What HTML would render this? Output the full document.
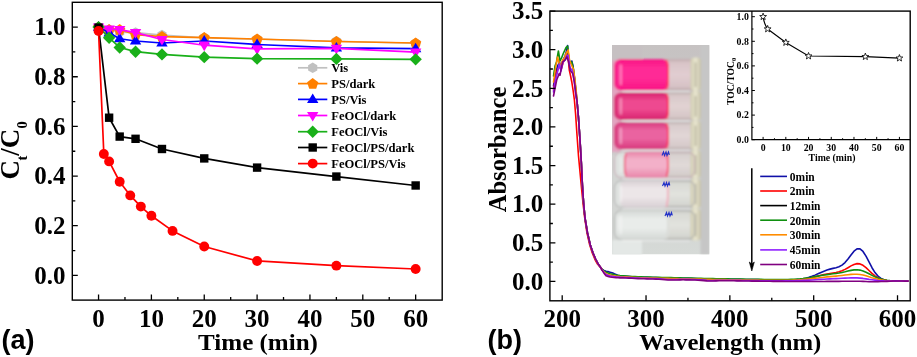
<!DOCTYPE html><html><head><meta charset="utf-8"><title>Figure</title><style>html,body{margin:0;padding:0;background:#fff;overflow:hidden}svg{display:block}</style></head><body>
<svg width="917" height="357" viewBox="0 0 917 357">
<rect width="917" height="357" fill="#fff"/>
<g fill="none" stroke-width="1.7" stroke-linejoin="round">
<polyline stroke="#c0c0c0" points="98.55,27.1 109.12,29.58 119.69,32.07 135.55,32.56 161.97,35.04 204.25,37.77 257.1,39.26 336.38,41.25 415.65,43.24"/>
<polygon points="98.55,21.8 103.14,24.45 103.14,29.75 98.55,32.4 93.96,29.75 93.96,24.45" fill="#c0c0c0" stroke="none"/>
<polygon points="109.12,24.28 113.71,26.93 113.71,32.23 109.12,34.88 104.53,32.23 104.53,26.93" fill="#c0c0c0" stroke="none"/>
<polygon points="119.69,26.77 124.28,29.42 124.28,34.72 119.69,37.37 115.1,34.72 115.1,29.42" fill="#c0c0c0" stroke="none"/>
<polygon points="135.55,27.26 140.13,29.91 140.13,35.21 135.55,37.86 130.96,35.21 130.96,29.91" fill="#c0c0c0" stroke="none"/>
<polygon points="161.97,29.74 166.56,32.39 166.56,37.69 161.97,40.34 157.38,37.69 157.38,32.39" fill="#c0c0c0" stroke="none"/>
<polygon points="204.25,32.47 208.84,35.12 208.84,40.42 204.25,43.07 199.66,40.42 199.66,35.12" fill="#c0c0c0" stroke="none"/>
<polygon points="257.1,33.96 261.69,36.61 261.69,41.91 257.1,44.56 252.51,41.91 252.51,36.61" fill="#c0c0c0" stroke="none"/>
<polygon points="336.38,35.95 340.96,38.6 340.96,43.9 336.38,46.55 331.79,43.9 331.79,38.6" fill="#c0c0c0" stroke="none"/>
<polygon points="415.65,37.94 420.24,40.59 420.24,45.89 415.65,48.54 411.06,45.89 411.06,40.59" fill="#c0c0c0" stroke="none"/>
<polyline stroke="#ff8000" points="98.55,27.1 109.12,29.58 119.69,29.58 135.55,34.55 161.97,36.53 204.25,37.53 257.1,39.02 336.38,41.5 415.65,42.99"/>
<polygon points="98.55,21.6 104.16,25.68 102.02,32.27 95.08,32.27 92.94,25.68" fill="#ff8000" stroke="none"/>
<polygon points="109.12,24.08 114.73,28.16 112.59,34.76 105.65,34.76 103.51,28.16" fill="#ff8000" stroke="none"/>
<polygon points="119.69,24.08 125.3,28.16 123.16,34.76 116.22,34.76 114.08,28.16" fill="#ff8000" stroke="none"/>
<polygon points="135.55,29.05 141.16,33.12 139.01,39.72 132.08,39.72 129.93,33.12" fill="#ff8000" stroke="none"/>
<polygon points="161.97,31.03 167.58,35.11 165.44,41.71 158.5,41.71 156.36,35.11" fill="#ff8000" stroke="none"/>
<polygon points="204.25,32.03 209.86,36.1 207.72,42.7 200.78,42.7 198.64,36.1" fill="#ff8000" stroke="none"/>
<polygon points="257.1,33.52 262.71,37.59 260.57,44.19 253.63,44.19 251.49,37.59" fill="#ff8000" stroke="none"/>
<polygon points="336.38,36 341.99,40.08 339.84,46.67 332.91,46.67 330.76,40.08" fill="#ff8000" stroke="none"/>
<polygon points="415.65,37.49 421.26,41.56 419.12,48.16 412.18,48.16 410.04,41.56" fill="#ff8000" stroke="none"/>
<polyline stroke="#0000ff" points="98.55,27.1 109.12,32.81 119.69,38.77 135.55,41 161.97,42.99 204.25,41 257.1,44.48 336.38,47.95 415.65,48.7"/>
<polygon points="98.55,21.1 104.25,30.7 92.85,30.7" fill="#0000ff" stroke="none"/>
<polygon points="109.12,26.81 114.82,36.41 103.42,36.41" fill="#0000ff" stroke="none"/>
<polygon points="119.69,32.77 125.39,42.37 113.99,42.37" fill="#0000ff" stroke="none"/>
<polygon points="135.55,35 141.25,44.6 129.85,44.6" fill="#0000ff" stroke="none"/>
<polygon points="161.97,36.99 167.67,46.59 156.27,46.59" fill="#0000ff" stroke="none"/>
<polygon points="204.25,35 209.95,44.6 198.55,44.6" fill="#0000ff" stroke="none"/>
<polygon points="257.1,38.48 262.8,48.08 251.4,48.08" fill="#0000ff" stroke="none"/>
<polygon points="336.38,41.95 342.07,51.55 330.68,51.55" fill="#0000ff" stroke="none"/>
<polygon points="415.65,42.7 421.35,52.3 409.95,52.3" fill="#0000ff" stroke="none"/>
<polyline stroke="#ff00ff" points="98.55,27.1 109.12,29.09 119.69,29.58 135.55,32.56 161.97,39.51 204.25,45.22 257.1,48.95 336.38,48.45 415.65,52.17"/>
<polygon points="98.55,33.1 104.25,23.5 92.85,23.5" fill="#ff00ff" stroke="none"/>
<polygon points="109.12,35.09 114.82,25.49 103.42,25.49" fill="#ff00ff" stroke="none"/>
<polygon points="119.69,35.58 125.39,25.98 113.99,25.98" fill="#ff00ff" stroke="none"/>
<polygon points="135.55,38.56 141.25,28.96 129.85,28.96" fill="#ff00ff" stroke="none"/>
<polygon points="161.97,45.51 167.67,35.91 156.27,35.91" fill="#ff00ff" stroke="none"/>
<polygon points="204.25,51.22 209.95,41.62 198.55,41.62" fill="#ff00ff" stroke="none"/>
<polygon points="257.1,54.95 262.8,45.35 251.4,45.35" fill="#ff00ff" stroke="none"/>
<polygon points="336.38,54.45 342.07,44.85 330.68,44.85" fill="#ff00ff" stroke="none"/>
<polygon points="415.65,58.17 421.35,48.57 409.95,48.57" fill="#ff00ff" stroke="none"/>
<polyline stroke="#19b019" points="98.55,27.1 109.12,37.77 119.69,47.46 135.55,51.68 161.97,54.41 204.25,57.14 257.1,58.63 336.38,58.88 415.65,59.37"/>
<polygon points="98.55,20.9 104.75,27.1 98.55,33.3 92.35,27.1" fill="#19b019" stroke="none"/>
<polygon points="109.12,31.57 115.32,37.77 109.12,43.97 102.92,37.77" fill="#19b019" stroke="none"/>
<polygon points="119.69,41.26 125.89,47.46 119.69,53.66 113.49,47.46" fill="#19b019" stroke="none"/>
<polygon points="135.55,45.48 141.75,51.68 135.55,57.88 129.35,51.68" fill="#19b019" stroke="none"/>
<polygon points="161.97,48.21 168.17,54.41 161.97,60.61 155.77,54.41" fill="#19b019" stroke="none"/>
<polygon points="204.25,50.94 210.45,57.14 204.25,63.34 198.05,57.14" fill="#19b019" stroke="none"/>
<polygon points="257.1,52.43 263.3,58.63 257.1,64.83 250.9,58.63" fill="#19b019" stroke="none"/>
<polygon points="336.38,52.68 342.57,58.88 336.38,65.08 330.18,58.88" fill="#19b019" stroke="none"/>
<polygon points="415.65,53.17 421.85,59.37 415.65,65.57 409.45,59.37" fill="#19b019" stroke="none"/>
<polyline stroke="#000000" points="98.55,27.6 109.12,117.71 119.69,136.58 135.55,138.81 161.97,148.99 204.25,158.42 257.1,167.61 336.38,176.55 415.65,185.48"/>
<rect x="94.35" y="23.4" width="8.4" height="8.4" fill="#000000" stroke="none"/>
<rect x="104.92" y="113.51" width="8.4" height="8.4" fill="#000000" stroke="none"/>
<rect x="115.49" y="132.38" width="8.4" height="8.4" fill="#000000" stroke="none"/>
<rect x="131.35" y="134.61" width="8.4" height="8.4" fill="#000000" stroke="none"/>
<rect x="157.77" y="144.79" width="8.4" height="8.4" fill="#000000" stroke="none"/>
<rect x="200.05" y="154.22" width="8.4" height="8.4" fill="#000000" stroke="none"/>
<rect x="252.9" y="163.41" width="8.4" height="8.4" fill="#000000" stroke="none"/>
<rect x="332.18" y="172.35" width="8.4" height="8.4" fill="#000000" stroke="none"/>
<rect x="411.45" y="181.28" width="8.4" height="8.4" fill="#000000" stroke="none"/>
<polyline stroke="#ff0000" points="98.55,31.07 103.83,153.96 109.12,161.4 119.69,181.76 130.26,195.41 140.83,206.58 151.4,215.77 172.54,230.91 204.25,246.55 257.1,260.95 336.38,265.67 415.65,268.99"/>
<circle cx="98.55" cy="31.07" r="4.95" fill="#ff0000" stroke="none"/>
<circle cx="103.83" cy="153.96" r="4.95" fill="#ff0000" stroke="none"/>
<circle cx="109.12" cy="161.4" r="4.95" fill="#ff0000" stroke="none"/>
<circle cx="119.69" cy="181.76" r="4.95" fill="#ff0000" stroke="none"/>
<circle cx="130.26" cy="195.41" r="4.95" fill="#ff0000" stroke="none"/>
<circle cx="140.83" cy="206.58" r="4.95" fill="#ff0000" stroke="none"/>
<circle cx="151.4" cy="215.77" r="4.95" fill="#ff0000" stroke="none"/>
<circle cx="172.54" cy="230.91" r="4.95" fill="#ff0000" stroke="none"/>
<circle cx="204.25" cy="246.55" r="4.95" fill="#ff0000" stroke="none"/>
<circle cx="257.1" cy="260.95" r="4.95" fill="#ff0000" stroke="none"/>
<circle cx="336.38" cy="265.67" r="4.95" fill="#ff0000" stroke="none"/>
<circle cx="415.65" cy="268.99" r="4.95" fill="#ff0000" stroke="none"/>
</g>
<rect x="72.3" y="2.3" width="369.9" height="297.8" fill="none" stroke="#000" stroke-width="1.4"/>
<path d="M72.3 275.35h5.5M72.3 250.53h3M72.3 225.7h5.5M72.3 200.88h3M72.3 176.05h5.5M72.3 151.23h3M72.3 126.4h5.5M72.3 101.58h3M72.3 76.75h5.5M72.3 51.93h3M72.3 27.1h5.5M98.55 300.1v-5.5M124.97 300.1v-3M151.4 300.1v-5.5M177.82 300.1v-3M204.25 300.1v-5.5M230.68 300.1v-3M257.1 300.1v-5.5M283.52 300.1v-3M309.95 300.1v-5.5M336.38 300.1v-3M362.8 300.1v-5.5M389.23 300.1v-3M415.65 300.1v-5.5" stroke="#000" stroke-width="1.3" fill="none"/>
<g font-family="'Liberation Serif', 'Times New Roman', serif" font-weight="bold" font-size="25" fill="#000">
<text x="65.5" y="283.65" text-anchor="end">0.0</text>
<text x="65.5" y="234" text-anchor="end">0.2</text>
<text x="65.5" y="184.35" text-anchor="end">0.4</text>
<text x="65.5" y="134.7" text-anchor="end">0.6</text>
<text x="65.5" y="85.05" text-anchor="end">0.8</text>
<text x="65.5" y="35.4" text-anchor="end">1.0</text>
<text x="98.55" y="327" text-anchor="middle">0</text>
<text x="151.4" y="327" text-anchor="middle">10</text>
<text x="204.25" y="327" text-anchor="middle">20</text>
<text x="257.1" y="327" text-anchor="middle">30</text>
<text x="309.95" y="327" text-anchor="middle">40</text>
<text x="362.8" y="327" text-anchor="middle">50</text>
<text x="415.65" y="327" text-anchor="middle">60</text>
</g>
<text transform="translate(258,349.5) scale(1.044,1)" text-anchor="middle" font-family="'Liberation Serif', 'Times New Roman', serif" font-weight="bold" font-size="24">Time (min)</text>
<text transform="translate(19.4,179.4) rotate(-90)" font-family="'Liberation Serif', 'Times New Roman', serif" font-weight="bold" font-size="27">C<tspan font-size="14.5" dy="7.8" dx="-0.6">t</tspan><tspan dy="-7.8" dx="-0.2">/C</tspan><tspan font-size="14.5" dy="7.8" dx="0.4">0</tspan></text>
<text x="1.5" y="348.5" font-family="'Liberation Sans', Arial, sans-serif" font-weight="bold" font-size="27">(a)</text>
<g>
<line x1="298" y1="67.8" x2="327.3" y2="67.8" stroke="#c0c0c0" stroke-width="1.7"/>
<polygon points="312.7,62.5 317.29,65.15 317.29,70.45 312.7,73.1 308.11,70.45 308.11,65.15" fill="#c0c0c0"/>
<line x1="298" y1="83.6" x2="327.3" y2="83.6" stroke="#ff8000" stroke-width="1.7"/>
<polygon points="312.7,78.1 318.31,82.18 316.17,88.77 309.23,88.77 307.09,82.18" fill="#ff8000"/>
<line x1="298" y1="99.4" x2="327.3" y2="99.4" stroke="#0000ff" stroke-width="1.7"/>
<polygon points="312.7,93.4 318.4,103 307,103" fill="#0000ff"/>
<line x1="298" y1="115.5" x2="327.3" y2="115.5" stroke="#ff00ff" stroke-width="1.7"/>
<polygon points="312.7,121.5 318.4,111.9 307,111.9" fill="#ff00ff"/>
<line x1="298" y1="131.7" x2="327.3" y2="131.7" stroke="#19b019" stroke-width="1.7"/>
<polygon points="312.7,125.5 318.9,131.7 312.7,137.9 306.5,131.7" fill="#19b019"/>
<line x1="298" y1="147.5" x2="327.3" y2="147.5" stroke="#000000" stroke-width="1.7"/>
<rect x="308.5" y="143.3" width="8.4" height="8.4" fill="#000000"/>
<line x1="298" y1="163.6" x2="327.3" y2="163.6" stroke="#ff0000" stroke-width="1.7"/>
<circle cx="312.7" cy="163.6" r="4.95" fill="#ff0000"/>
</g>
<g font-family="'Liberation Serif', 'Times New Roman', serif" font-weight="bold" font-size="12.6" fill="#000">
<text x="331.2" y="72">Vis</text>
<text x="331.2" y="87.8">PS/dark</text>
<text x="331.2" y="103.6">PS/Vis</text>
<text x="331.2" y="119.7">FeOCl/dark</text>
<text x="331.2" y="135.9">FeOCl/Vis</text>
<text x="331.2" y="151.7">FeOCl/PS/dark</text>
<text x="331.2" y="167.8">FeOCl/PS/Vis</text>
</g>
<g fill="none" stroke-width="1.6" stroke-linejoin="round" stroke-linecap="round">
<polyline stroke="#1010a8" points="553.5,86 555.5,74 557.5,66 559.5,62 561,68 563,60 565,56 566.5,51 567.6,45.5 568.8,60 570.3,63 571.8,61 573,66 574.5,78 575.8,90 577,101 578.5,118 580,140 581.3,162 582.4,185 583.6,203 585,218 587.5,233 590.3,245 593,253 595.6,259 598.2,264 600.6,267.4 602,269.28 604,270.42 606,271.33 608,271.64 610,272.2 612,272.78 614,273.61 616,274.57 618,275.58 620,275.9 623,276.14 626,276.38 629,276.62 632,276.8 635,276.95 638,277.1 641,277.23 644,277.3 647,277.38 650,277.45 653,277.54 656,277.64 659,277.79 662,278 665,278.25 668,278.47 671,278.57 674,278.53 677,278.43 680,278.35 683,278.32 686,278.35 689,278.41 692,278.48 695,278.56 698,278.69 701,278.87 704,279.1 707,279.34 710,279.48 713,279.47 716,279.37 719,279.27 722,279.21 725,279.2 728,279.23 731,279.27 734,279.31 737,279.36 740,279.4 743,279.45 746,279.49 749,279.53 752,279.58 755,279.62 758,279.67 761,279.71 764,279.74 767,279.77 770,279.8 773,279.83 776,279.85 779,279.88 782,279.89 785,279.89 788,279.88 791,279.82 794,279.71 797,279.52 800,279.22 803,278.78 806,278.16 809,277.34 812,276.32 815,275.12 818,273.8 821,272.44 824,271.15 827,270.02 830,269.11 833,268.39 836,267.7 839,266.75 842,265.15 845,262.6 848,259.07 851,254.98 854,251.22 857,248.9 860,248.89 863,251.48 866,256.18 869,261.99 872,267.73 875,272.57 878,276.13 881,278.43 884,279.76 887,280.45 890,280.77 893,280.9 896,280.97 899,281.02 902,281.07 905,281.11 908,281.15"/>
<polyline stroke="#ff0000" points="553.5,90 555.5,78 557.5,70 559.5,66 561,70 563,63 565,58 566.8,55 567.8,54 569.3,70 570.6,76 571.8,82 573.2,91 574.4,100 575.6,114 577,135 578.5,156 580,172 581.5,188 583,203 584.6,217 586.8,232 589.6,244.5 592.3,253 595,259.5 597.8,264.5 600.6,267.4 602,269.73 604,272.27 606,274.39 608,275.09 610,275.72 612,276.03 614,276.3 616,276.5 618,276.65 620,276.82 623,276.9 626,277.05 629,277.25 632,277.41 635,277.55 638,277.7 641,277.83 644,277.9 647,277.98 650,278.05 653,278.13 656,278.2 659,278.28 662,278.35 665,278.43 668,278.5 671,278.57 674,278.65 677,278.72 680,278.8 683,278.87 686,278.93 689,279 692,279.07 695,279.14 698,279.2 701,279.27 704,279.34 707,279.41 710,279.47 713,279.54 716,279.61 719,279.68 722,279.73 725,279.77 728,279.82 731,279.86 734,279.91 737,279.95 740,280 743,280.04 746,280.09 749,280.13 752,280.18 755,280.22 758,280.27 761,280.31 764,280.34 767,280.37 770,280.39 773,280.42 776,280.44 779,280.45 782,280.45 785,280.43 788,280.39 791,280.3 794,280.17 797,279.97 800,279.68 803,279.31 806,278.84 809,278.26 812,277.6 815,276.86 818,276.09 821,275.34 824,274.63 827,274.01 830,273.48 833,272.99 836,272.47 839,271.77 842,270.76 845,269.38 848,267.68 851,265.9 854,264.41 857,263.65 860,263.91 863,265.29 866,267.61 869,270.46 872,273.33 875,275.85 878,277.84 881,279.24 884,280.11 887,280.6 890,280.83 893,280.91 896,280.95 899,281.01 902,281.06 905,281.11 908,281.15"/>
<polyline stroke="#109010" points="553.5,76 555,66 556.5,62 558.4,51 560,61 561.5,58 563.5,53 566,47.6 567.6,46 568.5,56 570,63 571.8,62 573.2,68 574.5,78 575.8,90 577,101 578.5,118 580,140 581.3,162 582.4,185 583.6,203 585,218 587.5,233 590.3,245 593,253 595.6,259 598.2,264 600.6,267.4 602,269.2 604,270.9 606,272.3 608,273 610,273.7 612,274.14 614,274.58 616,274.96 618,275.28 620,275.6 623,275.84 626,276.08 629,276.32 632,276.5 635,276.65 638,276.8 641,276.92 644,277 647,277.07 650,277.15 653,277.22 656,277.3 659,277.38 662,277.45 665,277.52 668,277.6 671,277.67 674,277.75 677,277.82 680,277.9 683,277.97 686,278.03 689,278.1 692,278.17 695,278.24 698,278.3 701,278.37 704,278.44 707,278.51 710,278.57 713,278.64 716,278.71 719,278.78 722,278.83 725,278.87 728,278.92 731,278.96 734,279.01 737,279.05 740,279.1 743,279.14 746,279.19 749,279.23 752,279.28 755,279.32 758,279.37 761,279.41 764,279.44 767,279.46 770,279.49 773,279.51 776,279.53 779,279.54 782,279.53 785,279.51 788,279.46 791,279.38 794,279.25 797,279.07 800,278.83 803,278.52 806,278.14 809,277.7 812,277.19 815,276.65 818,276.1 821,275.55 824,275.05 827,274.6 830,274.2 833,273.83 836,273.44 839,273 842,272.45 845,271.78 848,271.04 851,270.35 854,269.86 857,269.74 860,270.09 863,270.94 866,272.22 869,273.75 872,275.36 875,276.86 878,278.13 881,279.12 884,279.83 887,280.31 890,280.62 893,280.8 896,280.92 899,281 902,281.06 905,281.1 908,281.15"/>
<polyline stroke="#ff8c00" points="553.5,82 555.5,68 557.6,57 560,67 562.6,60 564.5,58 566,53.4 568.2,50 569.5,60 571,64 573.5,69.4 575,80 576.3,92 577,101 578.5,118 580,140 581.3,162 582.4,185 583.6,203 585,218 587.5,233 590.3,245 593,253 595.6,259 598.2,264 600.6,267.4 602,269.56 604,271.82 606,273.7 608,274.4 610,275.06 612,275.43 614,275.79 616,276.08 618,276.31 620,276.56 623,276.72 626,276.92 629,277.13 632,277.3 635,277.45 638,277.6 641,277.73 644,277.8 647,277.88 650,277.95 653,278.03 656,278.1 659,278.18 662,278.25 665,278.33 668,278.4 671,278.47 674,278.55 677,278.62 680,278.7 683,278.77 686,278.83 689,278.9 692,278.97 695,279.04 698,279.1 701,279.17 704,279.24 707,279.31 710,279.37 713,279.44 716,279.51 719,279.58 722,279.63 725,279.67 728,279.72 731,279.76 734,279.81 737,279.85 740,279.9 743,279.94 746,279.99 749,280.03 752,280.08 755,280.12 758,280.17 761,280.21 764,280.24 767,280.26 770,280.29 773,280.31 776,280.32 779,280.33 782,280.32 785,280.3 788,280.26 791,280.19 794,280.09 797,279.95 800,279.77 803,279.55 806,279.29 809,278.98 812,278.64 815,278.28 818,277.92 821,277.56 824,277.23 827,276.92 830,276.63 833,276.36 836,276.08 839,275.77 842,275.42 845,275.04 848,274.67 851,274.36 854,274.19 857,274.23 860,274.52 863,275.08 866,275.85 869,276.77 872,277.69 875,278.53 878,279.26 881,279.85 884,280.29 887,280.58 890,280.75 893,280.84 896,280.9 899,280.98 902,281.05 905,281.1 908,281.14"/>
<polyline stroke="#9020ff" points="553.5,92 555.5,80 557.5,72 559.5,64 561,71 563,62 565,60 566.8,56 568,55 569,62 570.2,68 572,70 573.5,76 574.8,86 576,97 577,101 578.5,118 580,140 581.3,162 582.4,185 583.6,203 585,218 587.5,233 590.3,245 593,253 595.6,259 598.2,264 600.6,267.4 602,269.79 604,272.42 606,274.59 608,275.29 610,275.93 612,276.26 614,276.56 616,276.79 618,276.97 620,277.17 623,277.28 626,277.44 629,277.64 632,277.81 635,277.95 638,278.1 641,278.23 644,278.3 647,278.38 650,278.45 653,278.54 656,278.64 659,278.79 662,279 665,279.25 668,279.47 671,279.57 674,279.53 677,279.43 680,279.35 683,279.32 686,279.35 689,279.41 692,279.48 695,279.56 698,279.69 701,279.87 704,280.1 707,280.34 710,280.47 713,280.47 716,280.37 719,280.27 722,280.21 725,280.2 728,280.23 731,280.27 734,280.31 737,280.36 740,280.4 743,280.44 746,280.49 749,280.53 752,280.58 755,280.62 758,280.67 761,280.71 764,280.73 767,280.76 770,280.79 773,280.81 776,280.82 779,280.84 782,280.84 785,280.83 788,280.81 791,280.77 794,280.72 797,280.64 800,280.53 803,280.41 806,280.27 809,280.11 812,279.93 815,279.74 818,279.56 821,279.38 824,279.21 827,279.05 830,278.91 833,278.77 836,278.62 839,278.47 842,278.31 845,278.14 848,277.98 851,277.87 854,277.84 857,277.9 860,278.1 863,278.42 866,278.85 869,279.35 872,279.77 875,280.13 878,280.44 881,280.68 884,280.84 887,280.93 890,280.95 893,280.93 896,280.92 899,280.99 902,281.05 905,281.1 908,281.14"/>
<polyline stroke="#800080" points="553.5,96 556.7,80 559.2,73.6 560,75.3 562.6,61.8 565.1,60.2 566.8,56.8 568.5,61.8 570.2,70.2 572.7,73.6 574.4,82 575.6,92 577,101 578.5,118 580,140 581.3,162 582.4,185 583.6,203 585,218 587.5,233 590.3,245 593,253 595.6,259 598.2,264 600.6,267.4 602,270.07 604,273.14 606,275.69 608,276.39 610,276.99 612,277.26 614,277.47 616,277.61 618,277.7 620,277.83 623,277.86 626,277.98 629,278.16 632,278.31 635,278.45 638,278.6 641,278.73 644,278.8 647,278.88 650,278.95 653,279.04 656,279.14 659,279.29 662,279.5 665,279.75 668,279.97 671,280.07 674,280.03 677,279.93 680,279.85 683,279.82 686,279.85 689,279.91 692,279.98 695,280.06 698,280.19 701,280.37 704,280.6 707,280.84 710,280.97 713,280.97 716,280.87 719,280.77 722,280.71 725,280.7 728,280.73 731,280.77 734,280.81 737,280.86 740,280.9 743,280.94 746,280.99 749,281.03 752,281.08 755,281.12 758,281.17 761,281.21 764,281.24 767,281.27 770,281.3 773,281.33 776,281.35 779,281.38 782,281.4 785,281.43 788,281.44 791,281.46 794,281.47 797,281.48 800,281.48 803,281.49 806,281.48 809,281.48 812,281.47 815,281.46 818,281.45 821,281.44 824,281.43 827,281.42 830,281.41 833,281.4 836,281.38 839,281.36 842,281.32 845,281.28 848,281.25 851,281.22 854,281.22 857,281.25 860,281.31 863,281.42 866,281.56 869,281.72 872,281.75 875,281.7 878,281.65 881,281.57 884,281.47 887,281.35 890,281.21 893,281.06 896,280.97 899,281.02 902,281.07 905,281.11 908,281.15"/>
</g>
<defs>
<clipPath id="ph"><rect x="612" y="45" width="97.5" height="209.5"/></clipPath>
<filter id="bl" x="-10%" y="-10%" width="120%" height="120%"><feGaussianBlur stdDeviation="0.9"/></filter>
<linearGradient id="bg" x1="0" y1="0" x2="0" y2="1">
<stop offset="0" stop-color="#c6c2c2"/><stop offset="0.45" stop-color="#cbcaca"/><stop offset="1" stop-color="#d6dad7"/></linearGradient>
<linearGradient id="glass" x1="0" y1="0" x2="0" y2="1">
<stop offset="0" stop-color="#bcbcb6"/><stop offset="0.12" stop-color="#d8d9d4"/><stop offset="0.5" stop-color="#e2e3de"/><stop offset="0.88" stop-color="#d5d6d1"/><stop offset="1" stop-color="#b8b8b2"/></linearGradient>
<linearGradient id="rim" x1="0" y1="0" x2="1" y2="0">
<stop offset="0" stop-color="#cfcbb0"/><stop offset="0.5" stop-color="#e9e6d0"/><stop offset="1" stop-color="#c4c0a6"/></linearGradient>
<linearGradient id="sh" x1="0" y1="0" x2="0" y2="1">
<stop offset="0" stop-color="#000" stop-opacity="0.12"/><stop offset="0.3" stop-color="#fff" stop-opacity="0.08"/><stop offset="0.7" stop-color="#fff" stop-opacity="0.0"/><stop offset="1" stop-color="#000" stop-opacity="0.14"/></linearGradient>
</defs>
<g clip-path="url(#ph)">
<rect x="612" y="45" width="97.5" height="209.5" fill="url(#bg)"/>
<g filter="url(#bl)">
<rect x="612" y="45" width="30" height="15" fill="#c6c0c2"/>
<rect x="612" y="60" width="8" height="92" fill="#e2a4c0"/>
<rect x="612" y="155" width="8" height="100" fill="#d3d5d3"/>
<rect x="612" y="240" width="30" height="15" fill="#e4e8e6"/>
<rect x="700.5" y="45" width="9" height="209.5" fill="#c6c6c6"/>
<defs><linearGradient id="lq0" x1="0" y1="0" x2="0" y2="1"><stop offset="0" stop-color="#fa1484"/><stop offset="0.3" stop-color="#ff2c96"/><stop offset="0.6" stop-color="#ff2c96"/><stop offset="1" stop-color="#fa1484"/></linearGradient><linearGradient id="lq1" x1="0" y1="0" x2="0" y2="1"><stop offset="0" stop-color="#d8226e"/><stop offset="0.3" stop-color="#ee4a90"/><stop offset="0.6" stop-color="#ee4a90"/><stop offset="1" stop-color="#d8226e"/></linearGradient><linearGradient id="lq2" x1="0" y1="0" x2="0" y2="1"><stop offset="0" stop-color="#d8387c"/><stop offset="0.3" stop-color="#ea64a0"/><stop offset="0.6" stop-color="#ea64a0"/><stop offset="1" stop-color="#d8387c"/></linearGradient><linearGradient id="lq3" x1="0" y1="0" x2="0" y2="1"><stop offset="0" stop-color="#e884a8"/><stop offset="0.3" stop-color="#f3b0c9"/><stop offset="0.6" stop-color="#f3b0c9"/><stop offset="1" stop-color="#e884a8"/></linearGradient><linearGradient id="lq4" x1="0" y1="0" x2="0" y2="1"><stop offset="0" stop-color="#d8d0d4"/><stop offset="0.3" stop-color="#ece6e8"/><stop offset="0.6" stop-color="#ece6e8"/><stop offset="1" stop-color="#d8d0d4"/></linearGradient><linearGradient id="lq5" x1="0" y1="0" x2="0" y2="1"><stop offset="0" stop-color="#d4d8d5"/><stop offset="0.3" stop-color="#e9ecea"/><stop offset="0.6" stop-color="#e9ecea"/><stop offset="1" stop-color="#d4d8d5"/></linearGradient></defs>
<rect x="664" y="59" width="30" height="31.5" fill="url(#glass)"/>
<rect x="664" y="59" width="30" height="31.5" fill="#e0407a" opacity="0.13"/>
<rect x="690.5" y="57.5" width="10.5" height="33.5" rx="4" fill="url(#rim)"/>
<rect x="694.5" y="62.5" width="2.2" height="24.5" fill="#a9a58c" opacity="0.55"/>
<rect x="614" y="59" width="16" height="31.5" rx="7" fill="#fa1484" opacity="0.9"/>
<rect x="617.5" y="59.3" width="51.5" height="30.9" rx="6" fill="url(#lq0)"/>
<path d="M666.5 60 q3 14.75 0 29.5" stroke="#ff3a5a" stroke-width="1.6" fill="none"/>
<rect x="619.5" y="64.5" width="2.5" height="20.5" fill="#fff" opacity="0.35"/>
<rect x="622" y="90.7" width="68" height="1.1" fill="#f4f4f4" opacity="0.85"/>
<rect x="664" y="92.5" width="30" height="27.6" fill="url(#glass)"/>
<rect x="664" y="92.5" width="30" height="27.6" fill="#e0407a" opacity="0.10"/>
<rect x="690.5" y="91" width="10.5" height="29.6" rx="4" fill="url(#rim)"/>
<rect x="694.5" y="96" width="2.2" height="20.6" fill="#a9a58c" opacity="0.55"/>
<rect x="614" y="92.5" width="16" height="27.6" rx="7" fill="#d8226e" opacity="0.9"/>
<rect x="617.5" y="92.8" width="51.5" height="27" rx="6" fill="url(#lq1)"/>
<path d="M666.5 93.5 q3 12.8 0 25.6" stroke="#ff2e58" stroke-width="1.6" fill="none"/>
<rect x="619.5" y="98" width="2.5" height="16.6" fill="#fff" opacity="0.35"/>
<rect x="622" y="120.3" width="68" height="1.1" fill="#f4f4f4" opacity="0.85"/>
<rect x="664" y="122.1" width="30" height="27.4" fill="url(#glass)"/>
<rect x="664" y="122.1" width="30" height="27.4" fill="#e0407a" opacity="0.08"/>
<rect x="690.5" y="120.6" width="10.5" height="29.4" rx="4" fill="url(#rim)"/>
<rect x="694.5" y="125.6" width="2.2" height="20.4" fill="#a9a58c" opacity="0.55"/>
<rect x="614" y="122.1" width="16" height="27.4" rx="7" fill="#d8387c" opacity="0.9"/>
<rect x="618" y="122.4" width="51" height="26.8" rx="6" fill="url(#lq2)"/>
<path d="M666.5 123.1 q3 12.7 0 25.4" stroke="#ff3c60" stroke-width="1.6" fill="none"/>
<rect x="619.5" y="127.6" width="2.5" height="16.4" fill="#fff" opacity="0.35"/>
<rect x="622" y="149.7" width="68" height="1.1" fill="#f4f4f4" opacity="0.85"/>
<rect x="664" y="151.5" width="30" height="26.6" fill="url(#glass)"/>
<rect x="664" y="151.5" width="30" height="26.6" fill="#e0407a" opacity="0.05"/>
<rect x="690.5" y="150" width="10.5" height="28.6" rx="4" fill="url(#rim)"/>
<rect x="694.5" y="155" width="2.2" height="19.6" fill="#a9a58c" opacity="0.55"/>
<rect x="614" y="151.5" width="16" height="26.6" rx="7" fill="#dfe2e0" opacity="0.9"/>
<rect x="614.5" y="152" width="80" height="25.6" rx="7" fill="none" stroke="#c8b0b8" stroke-width="1.2"/>
<rect x="624" y="151.8" width="45" height="26" rx="6" fill="url(#lq3)"/>
<path d="M626 153 q-2.5 11.8 0 23.6" stroke="#f06080" stroke-width="1.6" fill="none"/>
<path d="M666.5 152.5 q3 12.3 0 24.6" stroke="#f84a6a" stroke-width="1.6" fill="none"/>
<rect x="619.5" y="157" width="2.5" height="15.6" fill="#fff" opacity="0.35"/>
<rect x="622" y="178.3" width="68" height="1.1" fill="#f4f4f4" opacity="0.85"/>
<rect x="664" y="180.1" width="30" height="27.8" fill="url(#glass)"/>
<rect x="690.5" y="178.6" width="10.5" height="29.8" rx="4" fill="url(#rim)"/>
<rect x="694.5" y="183.6" width="2.2" height="20.8" fill="#a9a58c" opacity="0.55"/>
<rect x="614" y="180.1" width="16" height="27.8" rx="7" fill="#dfe2e0" opacity="0.9"/>
<rect x="614.5" y="180.6" width="80" height="26.8" rx="7" fill="none" stroke="#b8b8b8" stroke-width="1.2"/>
<rect x="620" y="180.4" width="49" height="27.2" rx="6" fill="url(#lq4)"/>
<path d="M666.5 181.1 q3 12.9 0 25.8" stroke="#f0a8b8" stroke-width="1.6" fill="none"/>
<rect x="619.5" y="185.6" width="2.5" height="16.8" fill="#fff" opacity="0.35"/>
<rect x="622" y="208.1" width="68" height="1.1" fill="#f4f4f4" opacity="0.85"/>
<rect x="664" y="209.9" width="30" height="30.1" fill="url(#glass)"/>
<rect x="690.5" y="208.4" width="10.5" height="32.1" rx="4" fill="url(#rim)"/>
<rect x="694.5" y="213.4" width="2.2" height="23.1" fill="#a9a58c" opacity="0.55"/>
<rect x="614" y="209.9" width="16" height="30.1" rx="7" fill="#dfe2e0" opacity="0.9"/>
<rect x="614.5" y="210.4" width="80" height="29.1" rx="7" fill="none" stroke="#b4b6b4" stroke-width="1.2"/>
<rect x="617" y="210.2" width="52" height="29.5" rx="6" fill="url(#lq5)"/>
<path d="M666.5 210.9 q3 14.05 0 28.1" stroke="#d9dad6" stroke-width="1.6" fill="none"/>
<rect x="619.5" y="215.4" width="2.5" height="19.1" fill="#fff" opacity="0.35"/>
<rect x="622" y="240.2" width="68" height="1.1" fill="#f4f4f4" opacity="0.85"/>
</g>
<path d="M662 155.5l1.5 -3.5l1 3.5l1.5 -3.5l1 3.5l1.5 -3.5l0.8 3" stroke="#2433c8" stroke-width="1.1" fill="none"/>
<path d="M662.5 186l1.5 -3.5l1 3.5l1.5 -3.5l1 3.5l1.5 -3.5l0.8 3" stroke="#2433c8" stroke-width="1.1" fill="none"/>
<path d="M665 216l1.5 -3.5l1 3.5l1.5 -3.5l1 3.5l1.5 -3.5l0.8 3" stroke="#2433c8" stroke-width="1.1" fill="none"/>
</g>
<rect x="549.9" y="11.1" width="360.3" height="289.7" fill="none" stroke="#000" stroke-width="1.4"/>
<path d="M549.9 281.4h5.5M549.9 262.09h3M549.9 242.78h5.5M549.9 223.48h3M549.9 204.17h5.5M549.9 184.86h3M549.9 165.55h5.5M549.9 146.25h3M549.9 126.94h5.5M549.9 107.63h3M549.9 88.32h5.5M549.9 69.02h3M549.9 49.71h5.5M549.9 30.4h3M549.9 11.09h5.5M562.2 300.8v-5.5M604.12 300.8v-3M646.03 300.8v-5.5M687.95 300.8v-3M729.86 300.8v-5.5M771.78 300.8v-3M813.69 300.8v-5.5M855.61 300.8v-3M897.52 300.8v-5.5" stroke="#000" stroke-width="1.3" fill="none"/>
<g font-family="'Liberation Serif', 'Times New Roman', serif" font-weight="bold" font-size="25" fill="#000">
<text x="543.3" y="289.7" text-anchor="end">0.0</text>
<text x="543.3" y="251.08" text-anchor="end">0.5</text>
<text x="543.3" y="212.47" text-anchor="end">1.0</text>
<text x="543.3" y="173.85" text-anchor="end">1.5</text>
<text x="543.3" y="135.24" text-anchor="end">2.0</text>
<text x="543.3" y="96.62" text-anchor="end">2.5</text>
<text x="543.3" y="58.01" text-anchor="end">3.0</text>
<text x="543.3" y="19.39" text-anchor="end">3.5</text>
<text x="562.2" y="327" text-anchor="middle">200</text>
<text x="646.03" y="327" text-anchor="middle">300</text>
<text x="729.86" y="327" text-anchor="middle">400</text>
<text x="813.69" y="327" text-anchor="middle">500</text>
<text x="897.52" y="327" text-anchor="middle">600</text>
</g>
<text transform="translate(730.3,349.6) scale(1.03,1)" text-anchor="middle" font-family="'Liberation Serif', 'Times New Roman', serif" font-weight="bold" font-size="24">Wavelength (nm)</text>
<text transform="translate(505.5,149.5) rotate(-90)" text-anchor="middle" font-family="'Liberation Serif', 'Times New Roman', serif" font-weight="bold" font-size="24.6">Absorbance</text>
<text x="487.5" y="348.5" font-family="'Liberation Sans', Arial, sans-serif" font-weight="bold" font-size="27">(b)</text>
<line x1="760.2" y1="176.4" x2="787" y2="176.4" stroke="#1010a8" stroke-width="1.6"/>
<line x1="760.2" y1="191" x2="787" y2="191" stroke="#ff0000" stroke-width="1.6"/>
<line x1="760.2" y1="205.6" x2="787" y2="205.6" stroke="#000000" stroke-width="1.6"/>
<line x1="760.2" y1="220.2" x2="787" y2="220.2" stroke="#109010" stroke-width="1.6"/>
<line x1="760.2" y1="234.8" x2="787" y2="234.8" stroke="#ff8c00" stroke-width="1.6"/>
<line x1="760.2" y1="249.9" x2="787" y2="249.9" stroke="#9020ff" stroke-width="1.6"/>
<line x1="760.2" y1="264.5" x2="787" y2="264.5" stroke="#800080" stroke-width="1.6"/>
<g font-family="'Liberation Serif', 'Times New Roman', serif" font-weight="bold" font-size="11.5" fill="#000">
<text x="789.8" y="180.8">0min</text>
<text x="789.8" y="195.4">2min</text>
<text x="789.8" y="210">12min</text>
<text x="789.8" y="224.6">20min</text>
<text x="789.8" y="239.2">30min</text>
<text x="789.8" y="254.3">45min</text>
<text x="789.8" y="268.9">60min</text>
</g>
<line x1="751.8" y1="168.3" x2="751.8" y2="265" stroke="#000" stroke-width="1.5"/>
<path d="M749.3 262 L751.8 271 L754.3 262 L751.8 264 Z" fill="#000" stroke="#000" stroke-width="0.6"/>
<path d="M751.9 11.1V139.7H910.2" fill="none" stroke="#000" stroke-width="1.2"/>
<path d="M751.9 139.7h3M751.9 127.4h1.6M751.9 115.1h3M751.9 102.8h1.6M751.9 90.5h3M751.9 78.2h1.6M751.9 65.9h3M751.9 53.6h1.6M751.9 41.3h3M751.9 29h1.6M751.9 16.7h3M763.1 139.7v-2.8M774.46 139.7v-1.5M785.82 139.7v-2.8M797.18 139.7v-1.5M808.54 139.7v-2.8M819.9 139.7v-1.5M831.26 139.7v-2.8M842.62 139.7v-1.5M853.98 139.7v-2.8M865.34 139.7v-1.5M876.7 139.7v-2.8M888.06 139.7v-1.5M899.42 139.7v-2.8" stroke="#000" stroke-width="1.0" fill="none"/>
<g font-family="'Liberation Serif', 'Times New Roman', serif" font-weight="bold" font-size="9.8" fill="#000">
<text x="748.8" y="143" text-anchor="end">0.0</text>
<text x="748.8" y="118.4" text-anchor="end">0.2</text>
<text x="748.8" y="93.8" text-anchor="end">0.4</text>
<text x="748.8" y="69.2" text-anchor="end">0.6</text>
<text x="748.8" y="44.6" text-anchor="end">0.8</text>
<text x="748.8" y="20" text-anchor="end">1.0</text>
<text x="763.1" y="150.7" text-anchor="middle">0</text>
<text x="785.82" y="150.7" text-anchor="middle">10</text>
<text x="808.54" y="150.7" text-anchor="middle">20</text>
<text x="831.26" y="150.7" text-anchor="middle">30</text>
<text x="853.98" y="150.7" text-anchor="middle">40</text>
<text x="876.7" y="150.7" text-anchor="middle">50</text>
<text x="899.42" y="150.7" text-anchor="middle">60</text>
</g>
<text x="832" y="161.2" text-anchor="middle" font-family="'Liberation Serif', 'Times New Roman', serif" font-weight="bold" font-size="9.8">Time (min)</text>
<text transform="translate(734.2,105) rotate(-90)" font-family="'Liberation Serif', 'Times New Roman', serif" font-weight="bold" font-size="9.6">TOC/TOC<tspan font-size="6.5" dy="2">0</tspan></text>
<path d="M763.1 16.7 Q764.3 24.7 767.64 29 L785.82 42.53 808.54 56.06 865.34 56.67 899.42 58.15" fill="none" stroke="#000" stroke-width="1.1"/>
<polygon points="763.1,13.1 763.98,15.49 766.52,15.59 764.53,17.16 765.22,19.61 763.1,18.2 760.98,19.61 761.67,17.16 759.68,15.59 762.22,15.49" fill="#fff" stroke="#000" stroke-width="0.8"/>
<polygon points="767.64,25.4 768.53,27.79 771.07,27.89 769.07,29.46 769.76,31.91 767.64,30.5 765.53,31.91 766.22,29.46 764.22,27.89 766.76,27.79" fill="#fff" stroke="#000" stroke-width="0.8"/>
<polygon points="785.82,38.93 786.7,41.32 789.24,41.42 787.25,42.99 787.94,45.44 785.82,44.03 783.7,45.44 784.39,42.99 782.4,41.42 784.94,41.32" fill="#fff" stroke="#000" stroke-width="0.8"/>
<polygon points="808.54,52.46 809.42,54.85 811.96,54.95 809.97,56.52 810.66,58.97 808.54,57.56 806.42,58.97 807.11,56.52 805.12,54.95 807.66,54.85" fill="#fff" stroke="#000" stroke-width="0.8"/>
<polygon points="865.34,53.07 866.22,55.46 868.76,55.56 866.77,57.14 867.46,59.59 865.34,58.17 863.22,59.59 863.91,57.14 861.92,55.56 864.46,55.46" fill="#fff" stroke="#000" stroke-width="0.8"/>
<polygon points="899.42,54.55 900.3,56.94 902.84,57.04 900.85,58.61 901.54,61.06 899.42,59.65 897.3,61.06 897.99,58.61 896,57.04 898.54,56.94" fill="#fff" stroke="#000" stroke-width="0.8"/>
</svg></body></html>
